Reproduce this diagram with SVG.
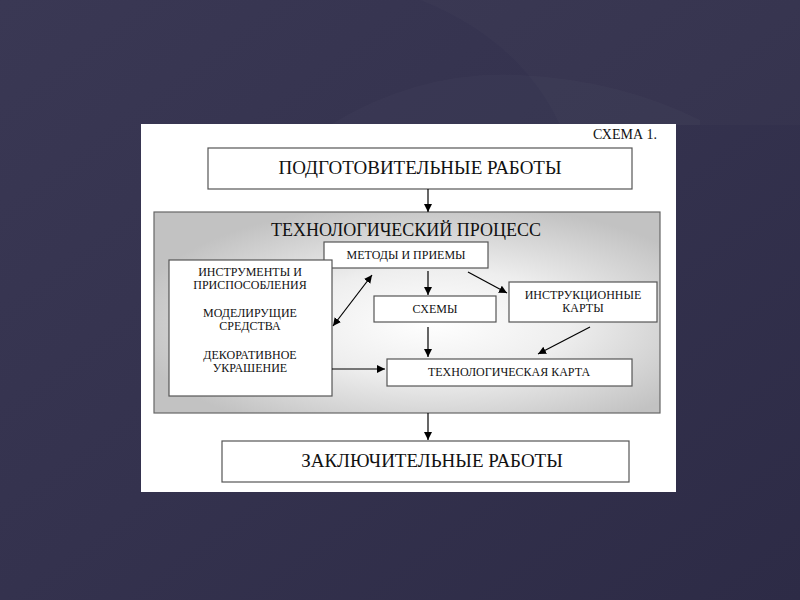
<svg xmlns="http://www.w3.org/2000/svg" width="800" height="600" viewBox="0 0 800 600">
<defs>
<linearGradient id="bg" x1="0" y1="0" x2="1" y2="1">
<stop offset="0" stop-color="#3a3854"/>
<stop offset="0.5" stop-color="#34324e"/>
<stop offset="1" stop-color="#2d2b46"/>
</linearGradient>
<radialGradient id="gr" cx="0.55" cy="0.55" r="0.6">
<stop offset="0" stop-color="#ffffff"/>
<stop offset="0.45" stop-color="#eeeeee"/>
<stop offset="1" stop-color="#c2c2c2"/>
</radialGradient>
<marker id="ah" viewBox="0 0 10 10" refX="10" refY="5" markerWidth="8" markerHeight="8" markerUnits="userSpaceOnUse" orient="auto-start-reverse">
<path d="M0,0 L10,5 L0,10 z" fill="#000"/>
</marker>
<style>
.box{fill:#fff;stroke:#555;stroke-width:1.2}
.t{font-family:"Liberation Serif","DejaVu Serif",serif;fill:#111;text-anchor:middle}
.big{font-size:19px}
.sm{font-size:12px}
.c{stroke:#000;stroke-width:1.2;fill:none;marker-end:url(#ah)}
</style>
</defs>
<rect width="800" height="600" fill="url(#bg)"/>
<path d="M330,125 Q420,70 520,75 Q620,80 700,120 L700,125 Z" fill="#fff" opacity="0.02"/>
<path d="M420,0 Q520,40 560,125 L800,125 L800,0 Z" fill="#fff" opacity="0.015"/>
<rect x="141" y="124" width="535" height="368" fill="#fff"/>
<text class="t" x="625" y="139" font-size="14">СХЕМА 1.</text>
<g id="prep">
<rect class="box" x="208" y="148" width="424" height="41"/>
<text class="t big" x="420" y="174">ПОДГОТОВИТЕЛЬНЫЕ РАБОТЫ</text>
</g>
<g id="process">
<rect x="154" y="212" width="506" height="201" fill="url(#gr)" stroke="#666" stroke-width="1.2"/>
<text class="t" x="406" y="236" font-size="18">ТЕХНОЛОГИЧЕСКИЙ ПРОЦЕСС</text>
</g>
<g id="methods">
<rect class="box" x="324" y="242" width="164" height="26"/>
<text class="t sm" x="406" y="259">МЕТОДЫ И ПРИЕМЫ</text>
</g>
<g id="tools">
<rect class="box" x="169" y="260" width="163" height="136"/>
<text class="t sm" x="250" y="276">ИНСТРУМЕНТЫ И</text>
<text class="t sm" x="250" y="289">ПРИСПОСОБЛЕНИЯ</text>
<text class="t sm" x="250" y="317">МОДЕЛИРУЩИЕ</text>
<text class="t sm" x="250" y="330">СРЕДСТВА</text>
<text class="t sm" x="250" y="359">ДЕКОРАТИВНОЕ</text>
<text class="t sm" x="250" y="372">УКРАШЕНИЕ</text>
</g>
<g id="schemes">
<rect class="box" x="374" y="296" width="122" height="26"/>
<text class="t sm" x="435" y="313">СХЕМЫ</text>
</g>
<g id="instr">
<rect class="box" x="509" y="282" width="148" height="40"/>
<text class="t sm" x="583" y="299">ИНСТРУКЦИОННЫЕ</text>
<text class="t sm" x="583" y="312">КАРТЫ</text>
</g>
<g id="techcard">
<rect class="box" x="387" y="359" width="245" height="27"/>
<text class="t sm" x="509" y="376">ТЕХНОЛОГИЧЕСКАЯ КАРТА</text>
</g>
<g id="final">
<rect class="box" x="222" y="441" width="407" height="41"/>
<text class="t big" x="432" y="467">ЗАКЛЮЧИТЕЛЬНЫЕ РАБОТЫ</text>
</g>
<g id="connectors">
<line class="c" x1="428" y1="189" x2="428" y2="212"/>
<line class="c" x1="333" y1="326" x2="372" y2="275" marker-start="url(#ah)"/>
<line class="c" x1="428" y1="271" x2="428" y2="295"/>
<line class="c" x1="468" y1="272" x2="507" y2="293"/>
<line class="c" x1="428" y1="327" x2="428" y2="357"/>
<line class="c" x1="590" y1="327" x2="538" y2="354"/>
<line class="c" x1="332" y1="369" x2="385" y2="369"/>
<line class="c" x1="428" y1="413" x2="428" y2="440"/>
</g>
</svg>
